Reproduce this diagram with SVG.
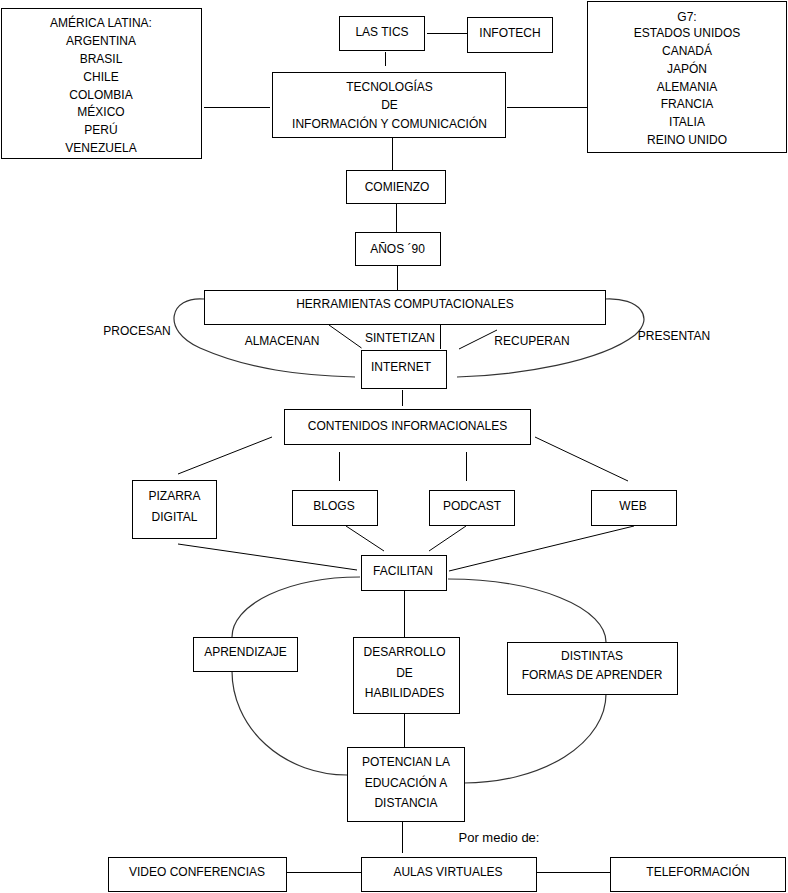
<svg xmlns="http://www.w3.org/2000/svg" width="788" height="893" viewBox="0 0 788 893">
<style>
.box{fill:#fff;stroke:#000;stroke-width:1}
.t{font-family:"Liberation Sans",Arial,sans-serif;font-size:12px;text-anchor:middle;fill:#000}
.c{stroke:#000;stroke-width:1;fill:none}
.cv{stroke:#333;stroke-width:1.2;fill:none}
</style>
<rect width="788" height="893" fill="#fff"/>
<g id="connectors">
<line class="c" x1="427" y1="33.5" x2="468" y2="33.5"/>
<line class="c" x1="385.5" y1="52" x2="385.5" y2="66"/>
<line class="c" x1="204" y1="107.5" x2="270" y2="107.5"/>
<line class="c" x1="507" y1="107.5" x2="587" y2="107.5"/>
<line class="c" x1="392.5" y1="138" x2="392.5" y2="170"/>
<line class="c" x1="396.5" y1="203" x2="396.5" y2="232"/>
<line class="c" x1="397.5" y1="266" x2="397.5" y2="290"/>
<path class="cv" d="M204,299 C170,296 160,330 200,348 C250,370 300,375 355,377"/>
<path class="cv" d="M605,299 C640,297 655,318 635,335 C600,362 520,375 457,377"/>
<line class="c" x1="329" y1="325" x2="361.5" y2="348"/>
<line class="c" x1="440.5" y1="325" x2="440.5" y2="349"/>
<line class="c" x1="497" y1="330" x2="459" y2="349"/>
<line class="c" x1="402.5" y1="390" x2="402.5" y2="406"/>
<line class="c" x1="272" y1="437" x2="178" y2="474"/>
<line class="c" x1="339.5" y1="452" x2="339.5" y2="481"/>
<line class="c" x1="466.5" y1="452" x2="466.5" y2="481"/>
<line class="c" x1="535" y1="437" x2="628" y2="481"/>
<line class="c" x1="178" y1="544" x2="357" y2="570"/>
<line class="c" x1="346" y1="526" x2="384" y2="551"/>
<line class="c" x1="466" y1="526" x2="429" y2="551"/>
<line class="c" x1="634" y1="526" x2="449" y2="571"/>
<path class="cv" d="M360,577 A128,60 0 0 0 232,637"/>
<path class="cv" d="M448,579 A158,63 0 0 1 606,642"/>
<path class="cv" d="M232,671 A115,104 0 0 0 347,775"/>
<path class="cv" d="M606,694 A142,89 0 0 1 464,783"/>
<line class="c" x1="404.5" y1="591" x2="404.5" y2="637"/>
<line class="c" x1="404.5" y1="713" x2="404.5" y2="747"/>
<line class="c" x1="402.5" y1="822" x2="402.5" y2="853"/>
<line class="c" x1="287" y1="872.5" x2="362" y2="872.5"/>
<line class="c" x1="537" y1="872.5" x2="610" y2="872.5"/>
</g>
<g id="labels">
<text class="t" x="137" y="335">PROCESAN</text>
<text class="t" x="282" y="345">ALMACENAN</text>
<text class="t" x="400" y="341.5">SINTETIZAN</text>
<text class="t" x="532" y="345">RECUPERAN</text>
<text class="t" x="674" y="339.5">PRESENTAN</text>
<text class="t" x="499" y="842" style="font-size:13px">Por medio de:</text>
</g>
<g id="america">
<rect class="box" x="1.5" y="8.5" width="200" height="150"/>
<text class="t" x="101" y="27">AMÉRICA LATINA:</text>
<text class="t" x="101" y="44.5">ARGENTINA</text>
<text class="t" x="101" y="62.5">BRASIL</text>
<text class="t" x="101" y="80.5">CHILE</text>
<text class="t" x="101" y="98.5">COLOMBIA</text>
<text class="t" x="101" y="116">MÉXICO</text>
<text class="t" x="101" y="133.5">PERÚ</text>
<text class="t" x="101" y="151.5">VENEZUELA</text>
</g>
<g id="g7">
<rect class="box" x="587.5" y="1.5" width="199" height="151"/>
<text class="t" x="687" y="20.5">G7:</text>
<text class="t" x="687" y="37">ESTADOS UNIDOS</text>
<text class="t" x="687" y="55">CANADÁ</text>
<text class="t" x="687" y="72.5">JAPÓN</text>
<text class="t" x="687" y="90.5">ALEMANIA</text>
<text class="t" x="687" y="107.5">FRANCIA</text>
<text class="t" x="687" y="126">ITALIA</text>
<text class="t" x="687" y="143.5">REINO UNIDO</text>
</g>
<g id="lastics">
<rect class="box" x="339.5" y="16.5" width="85" height="34"/>
<text class="t" x="382" y="35.5">LAS TICS</text>
</g>
<g id="infotech">
<rect class="box" x="467.5" y="17.5" width="85" height="35"/>
<text class="t" x="510" y="37">INFOTECH</text>
</g>
<g id="tecnologias">
<rect class="box" x="272.5" y="72.5" width="233" height="65"/>
<text class="t" x="389.5" y="91">TECNOLOGÍAS</text>
<text class="t" x="389.5" y="108.5">DE</text>
<text class="t" x="389.5" y="127.5">INFORMACIÓN Y COMUNICACIÓN</text>
</g>
<g id="comienzo">
<rect class="box" x="346.5" y="170.5" width="99" height="33"/>
<text class="t" x="397" y="190.5">COMIENZO</text>
</g>
<g id="anos90">
<rect class="box" x="355.5" y="232.5" width="85" height="33"/>
<text class="t" x="397.5" y="253">AÑOS ´90</text>
</g>
<g id="herramientas">
<rect class="box" x="204.5" y="290.5" width="401" height="34"/>
<text class="t" x="405" y="307.5">HERRAMIENTAS COMPUTACIONALES</text>
</g>
<g id="internet">
<rect class="box" x="361.5" y="350.5" width="85" height="38"/>
<text class="t" x="401" y="371">INTERNET</text>
</g>
<g id="contenidos">
<rect class="box" x="284.5" y="409.5" width="246" height="35"/>
<text class="t" x="407.5" y="429.5">CONTENIDOS INFORMACIONALES</text>
</g>
<g id="pizarra">
<rect class="box" x="132.5" y="480.5" width="84" height="58"/>
<text class="t" x="174.5" y="499.5">PIZARRA</text>
<text class="t" x="174.5" y="520.5">DIGITAL</text>
</g>
<g id="blogs">
<rect class="box" x="292.5" y="490.5" width="85" height="35"/>
<text class="t" x="334" y="509.5">BLOGS</text>
</g>
<g id="podcast">
<rect class="box" x="429.5" y="490.5" width="85" height="35"/>
<text class="t" x="472" y="509.5">PODCAST</text>
</g>
<g id="web">
<rect class="box" x="591.5" y="490.5" width="85" height="35"/>
<text class="t" x="633" y="509.5">WEB</text>
</g>
<g id="facilitan">
<rect class="box" x="361.5" y="555.5" width="85" height="35"/>
<text class="t" x="403" y="575">FACILITAN</text>
</g>
<g id="aprendizaje">
<rect class="box" x="193.5" y="637.5" width="104" height="34"/>
<text class="t" x="245.5" y="656">APRENDIZAJE</text>
</g>
<g id="desarrollo">
<rect class="box" x="353.5" y="637.5" width="106" height="76"/>
<text class="t" x="404.5" y="656">DESARROLLO</text>
<text class="t" x="404.5" y="676.5">DE</text>
<text class="t" x="404.5" y="697">HABILIDADES</text>
</g>
<g id="distintas">
<rect class="box" x="507.5" y="642.5" width="170" height="52"/>
<text class="t" x="592" y="660">DISTINTAS</text>
<text class="t" x="592" y="678.5">FORMAS DE APRENDER</text>
</g>
<g id="potencian">
<rect class="box" x="347.5" y="747.5" width="117" height="74"/>
<text class="t" x="406" y="766">POTENCIAN LA</text>
<text class="t" x="406" y="786.5">EDUCACIÓN A</text>
<text class="t" x="406" y="806.5">DISTANCIA</text>
</g>
<g id="video">
<rect class="box" x="108.5" y="857.5" width="178" height="34"/>
<text class="t" x="197" y="876">VIDEO CONFERENCIAS</text>
</g>
<g id="aulas">
<rect class="box" x="361.5" y="857.5" width="175" height="34"/>
<text class="t" x="448" y="876">AULAS VIRTUALES</text>
</g>
<g id="teleformacion">
<rect class="box" x="610.5" y="857.5" width="175" height="34"/>
<text class="t" x="698" y="876">TELEFORMACIÓN</text>
</g>
</svg>
